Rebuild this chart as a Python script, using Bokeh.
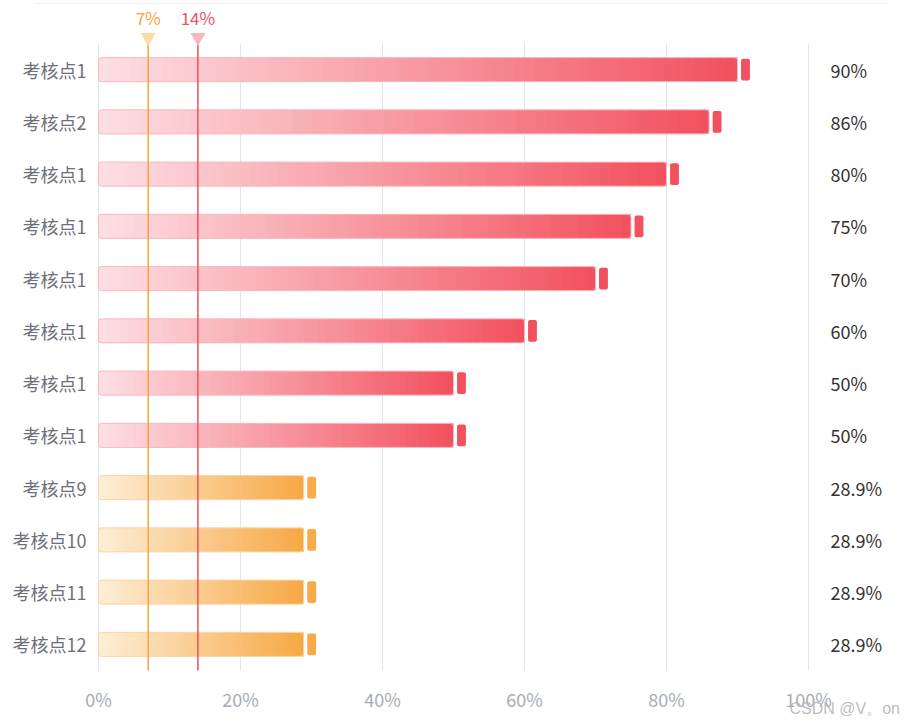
from bokeh.plotting import figure
from bokeh.models import Range1d
from bokeh.core.properties import value
from bokeh.embed import file_html
from bokeh.resources import INLINE

# ---- data ----
names = ["考核点1", "考核点2", "考核点1", "考核点1", "考核点1", "考核点1",
         "考核点1", "考核点1", "考核点9", "考核点10", "考核点11", "考核点12"]
values = [90, 86, 80, 75, 70, 60, 50, 50, 28.9, 28.9, 28.9, 28.9]
value_labels = ["90%", "86%", "80%", "75%", "70%", "60%", "50%", "50%",
                "28.9%", "28.9%", "28.9%", "28.9%"]
groups = ["high"] * 8 + ["low"] * 4
marker_values = [7, 14]
marker_labels = ["7%", "14%"]
x_ticks = [0, 20, 40, 60, 80, 100]
x_tick_labels = ["0%", "20%", "40%", "60%", "80%", "100%"]

# ---- palette ----
PAL = {
    "high": dict(start=(253, 224, 228), end=(242, 80, 94), edge="#F7B9C0", cap="#F2515F"),
    "low": dict(start=(253, 238, 216), end=(247, 168, 68), edge="#FBD6A6", cap="#F7AA48"),
}
MARK_COLORS = ["#F6A53B", "#F0515F"]
MARK_FILLS = ["#FDDBA8", "#F9B6BE"]
FONT = value("Noto Sans CJK SC")

n = len(values)
rows = list(range(n))
half = 0.23

# The frame covers the whole canvas; the value scale runs 0..100 between
# x=98px and x=808px, the rows sit between y=43px and y=670px.
W, H = 906, 722
px_x = (808 - 98) / 100.0
px_y = (670 - 43) / float(n)
x0 = -98 / px_x
x1 = 100 + (W - 808) / px_x
y_top = -0.5 - 43 / px_y
y_bot = n - 0.5 + (H - 670) / px_y

p = figure(width=W, height=H, output_backend="svg", toolbar_location=None,
           x_range=Range1d(x0, x1), y_range=Range1d(y_bot, y_top),
           x_axis_location=None, y_axis_location=None,
           min_border=0)
p.outline_line_color = None
p.xgrid.visible = False
p.ygrid.visible = False

# thin container border at the very top
p.segment(x0=[x0 + 33 / px_x], x1=[x0 + 888 / px_x], y0=[y_top + 3 / px_y], y1=[y_top + 3 / px_y],
          line_color="#EFEFF2", line_width=1)

# vertical grid lines limited to the bar area
p.segment(x0=x_ticks, x1=x_ticks, y0=[-0.5] * len(x_ticks), y1=[n - 0.5] * len(x_ticks),
          line_color="#E0E6F1", line_width=1)


def mix(a, b, t):
    return "#%02x%02x%02x" % tuple(int(round(a[k] + (b[k] - a[k]) * t)) for k in range(3))


# gradient bars made of thin slices
steps = 60
L, R, T, B, C = [], [], [], [], []
for i, (v, g) in enumerate(zip(values, groups)):
    pal = PAL[g]
    w = v / steps
    for j in range(steps):
        L.append(w * j)
        R.append(min(v, w * (j + 1.6)))
        T.append(i - half)
        B.append(i + half)
        C.append(mix(pal["start"], pal["end"], (j + 0.5) / steps))
p.quad(left=L, right=R, top=T, bottom=B, fill_color=C, line_color=None)

# bar outlines
p.quad(left=[0] * n, right=values, top=[r - half for r in rows], bottom=[r + half for r in rows],
       fill_alpha=0, line_color=[PAL[g]["edge"] for g in groups], line_width=1, border_radius=3)

# end caps
p.quad(left=[v + 0.5 for v in values], right=[v + 1.75 for v in values],
       top=[r - half + 0.02 for r in rows], bottom=[r + half - 0.02 for r in rows],
       fill_color=[PAL[g]["cap"] for g in groups], line_color=None, border_radius=2)

# reference lines with pins and labels
p.segment(x0=marker_values, x1=marker_values, y0=[-0.5] * 2, y1=[n - 0.5] * 2,
          line_color=MARK_COLORS, line_width=1.5)
p.scatter(x=marker_values, y=[-0.62] * 2, marker="inverted_triangle", size=15,
          fill_color=MARK_FILLS, line_color=None)
p.text(x=marker_values, y=[-0.99] * 2, text=marker_labels, text_align="center",
       text_baseline="middle", text_color=MARK_COLORS, text_font=FONT, text_font_size="17px")

# category names on the left
p.text(x=[-12 / px_x] * n, y=rows, text=names, text_align="right", text_baseline="middle",
       text_color="#6E7079", text_font=FONT, text_font_size="18px")

# value labels on the right
p.text(x=[100 + 22 / px_x] * n, y=rows, text=value_labels, text_align="left",
       text_baseline="middle", text_color="#333333", text_font=FONT, text_font_size="18px")

# value scale labels
p.text(x=x_ticks, y=[n - 0.5 + 28 / px_y] * len(x_ticks), text=x_tick_labels,
       text_align="center", text_baseline="middle", text_color="#A7ACB7",
       text_font=FONT, text_font_size="18px")

# signature
p.text(x=[100 - 19 / px_x], y=[n - 0.5 + 38 / px_y], text=["CSDN @V。on"], text_align="left",
       text_baseline="middle", text_color="#B4B4B4", text_alpha=0.9,
       text_font=value("Liberation Sans"), text_font_size="16px")

open("out.html", "w").write(file_html(p, INLINE))
